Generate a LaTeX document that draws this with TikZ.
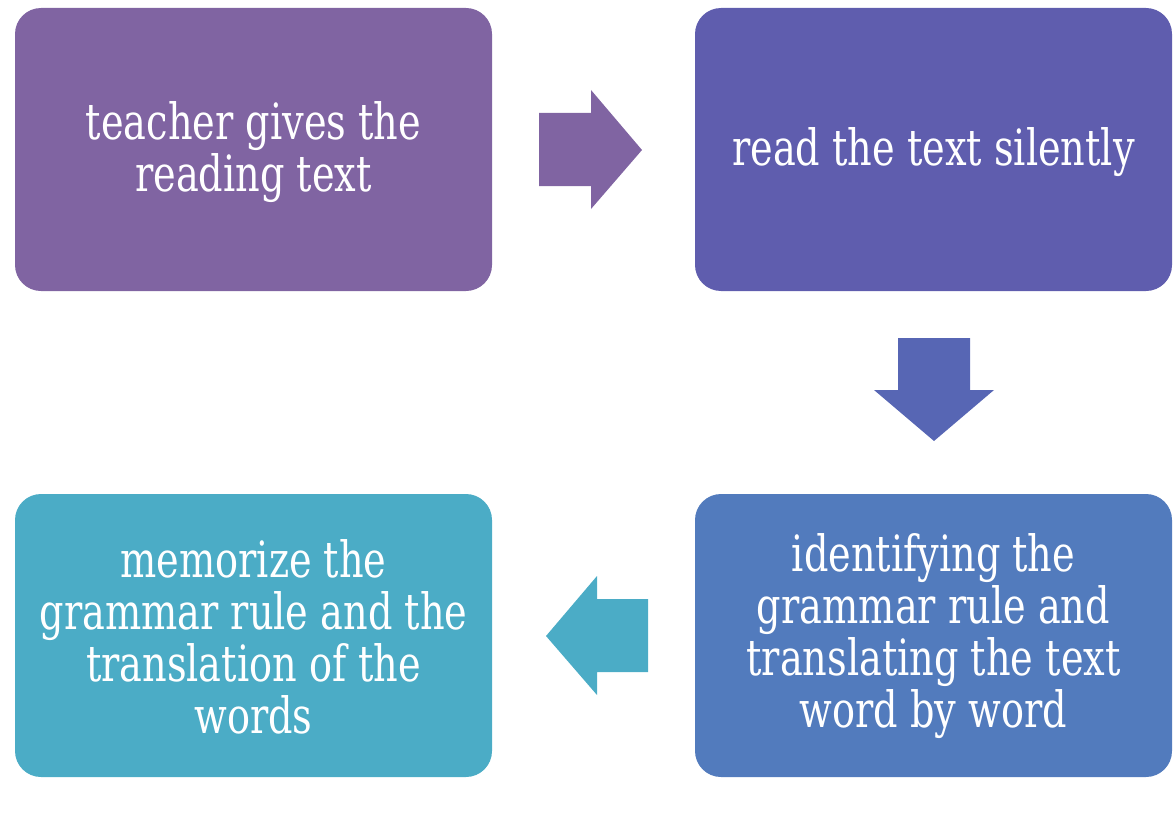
\documentclass[tikz,border=0pt]{standalone}
\usepackage{fontspec}
\setmainfont{DejaVu Serif Condensed}[FakeStretch=0.85]
\definecolor{cA}{HTML}{8064A2}
\definecolor{cB}{HTML}{5F5DAE}
\definecolor{cC}{HTML}{527BBD}
\definecolor{cD}{HTML}{4BACC6}
\definecolor{aB}{HTML}{5766B4}
\begin{document}
\begin{tikzpicture}[x=1pt,y=-1pt,
  stepbox/.style={rounded corners=26pt,inner sep=0pt},
  boxtext/.style={text=white,align=center,inner sep=0pt,font=\fontsize{50}{52}\selectfont}]
\useasboundingbox (0,0) rectangle (1174,832);
% boxes
\fill[cA,stepbox] (15,8) rectangle (492,291);
\fill[cB,stepbox] (695,8) rectangle (1172,291);
\fill[cC,stepbox] (695,494) rectangle (1172,777);
\fill[cD,stepbox] (15,494) rectangle (492,777);
\node[boxtext] (t1) at (253.5,152.5) {teacher gives the\\reading text};
\node[boxtext] (t2) at (933.5,152.5) {read the text silently};
\node[boxtext] (t3) at (933.5,636.5) {identifying the\\grammar rule and\\translating the text\\word by word};
\node[boxtext] (t4) at (253.5,636.5) {memorize the\\grammar rule and the\\translation of the\\words};
% arrows
\fill[cA] (539,113) -- (591,113) -- (591,90) -- (642,150) -- (591,209) -- (591,186) -- (539,186) -- cycle;
\fill[aB] (898,338) -- (970,338) -- (970,390) -- (994,390) -- (934,441) -- (874,390) -- (898,390) -- cycle;
\fill[cD] (648,599) -- (597,599) -- (597,576) -- (546,636) -- (597,695) -- (597,672) -- (648,672) -- cycle;
\end{tikzpicture}
\end{document}
